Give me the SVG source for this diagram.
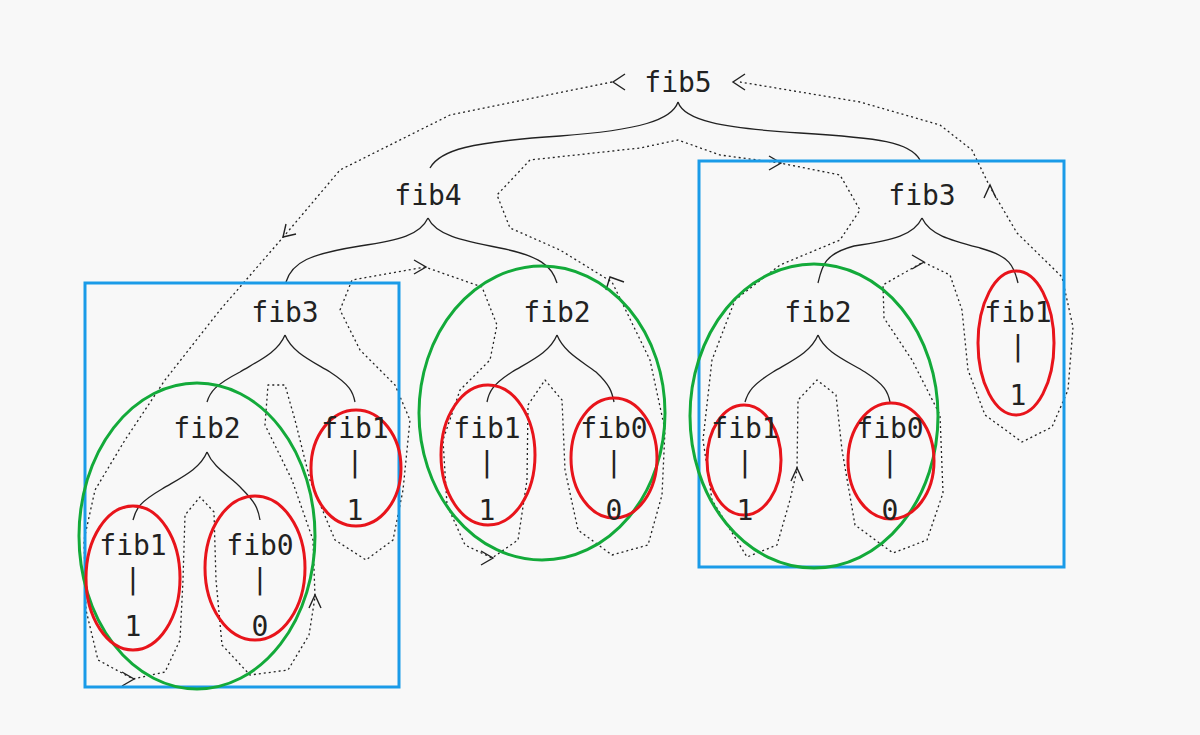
<svg xmlns="http://www.w3.org/2000/svg" width="1200" height="735" viewBox="0 0 1200 735">
<style>
text{font-family:"DejaVu Sans Mono","Liberation Mono",monospace;font-size:28px;fill:#222;text-anchor:middle}
.br{fill:none;stroke:#222;stroke-width:1.3}
.dot{fill:none;stroke:#222;stroke-width:1.3;stroke-dasharray:2 3;stroke-linejoin:round}
.ah{fill:none;stroke:#222;stroke-width:1.4}
.red{fill:none;stroke:#e8141b;stroke-width:3}
.grn{fill:none;stroke:#13aa3a;stroke-width:3}
.blu{fill:none;stroke:#1a9be8;stroke-width:3}
</style>
<rect width="1200" height="735" fill="#f8f8f8"/>
<g id="connectors">
<path class="br" d="M678,102 C672,120 640,130 560,136 C470,142 440,150 430,168"/>
<path class="br" d="M678,102 C684,120 720,128 800,133 C880,138 910,142 920,160"/>
<path class="br" d="M428,218 C420,235 400,240 360,246 C310,254 292,262 286,282"/>
<path class="br" d="M428,218 C436,235 460,240 500,248 C540,256 552,266 557,283"/>
<path class="br" d="M922,218 C914,235 894,240 854,246 C824,254 822,266 818,283"/>
<path class="br" d="M922,218 C930,235 950,240 980,248 C1010,256 1014,266 1018,283"/>
<path class="br" d="M285,335 C278,352 260,360 240,372 C215,385 210,392 207,402"/>
<path class="br" d="M285,335 C292,352 310,360 330,372 C350,385 353,392 355,402"/>
<path class="br" d="M557,335 C550,352 532,360 512,372 C492,385 489,392 487,402"/>
<path class="br" d="M557,335 C564,352 580,360 596,372 C610,385 612,392 614,402"/>
<path class="br" d="M818,335 C811,352 793,360 773,372 C752,385 748,392 745,402"/>
<path class="br" d="M818,335 C825,352 845,360 865,372 C885,385 888,392 890,402"/>
<path class="br" d="M207,452 C200,469 182,477 162,489 C140,502 136,508 133,520"/>
<path class="br" d="M207,452 C214,469 232,477 242,489 C255,502 258,508 260,520"/>
<polyline class="dot" points="612,82 450,115 340,170 285,235 220,310 165,380 125,440 95,490 84,540 86,610 98,660 133,679 165,672 180,640 183,580 185,515 200,497 214,512 216,580 222,645 250,675 288,670 309,635 315,597 313,540 292,480 265,425 268,385 285,385 295,420 310,480 335,540 366,560 393,540 403,490 410,420 395,385 360,350 340,310 352,280 425,267 482,287 497,325 490,360 460,390 443,440 447,505 465,545 492,558 518,540 527,480 528,405 545,380 562,400 565,470 578,530 612,555 648,545 662,495 665,430 650,360 612,282 560,250 510,228 497,195 530,160 640,148 678,140 720,155 780,163 840,175 860,210 840,240 780,265 735,300 712,360 703,440 712,500 747,557 777,545 790,500 797,470 798,400 817,380 836,395 842,450 855,525 893,553 927,540 943,493 940,415 912,360 884,318 883,285 923,262 950,275 962,310 968,370 985,415 1022,442 1052,427 1068,390 1073,327 1062,277 1017,233 990,187 972,150 940,125 860,102 740,82"/>
<path class="ah" d="M625,74 L613,82 L625,90"/>
<path class="ah" d="M286,224 L283,237 L296,234"/>
<path class="ah" d="M122,672 L134,679 L122,686"/>
<path class="ah" d="M309,608 L315,595 L321,608"/>
<path class="ah" d="M414,260 L426,267 L414,274"/>
<path class="ah" d="M481,551 L493,558 L481,565"/>
<path class="ah" d="M606,290 L610,277 L624,282"/>
<path class="ah" d="M769,156 L781,163 L769,170"/>
<path class="ah" d="M791,481 L797,468 L803,481"/>
<path class="ah" d="M912,255 L924,262 L912,269"/>
<path class="ah" d="M984,198 L990,185 L996,198"/>
<path class="ah" d="M745,74 L733,82 L745,90"/>
</g>
<rect id="box-left" class="blu" x="85" y="283" width="314" height="404"/>
<rect id="box-right" class="blu" x="699" y="161" width="365" height="406"/>
<g id="fib5"><text x="678" y="92">fib5</text></g>
<g id="fib4"><text x="428" y="205">fib4</text></g>
<g id="fib3-r"><text x="922" y="205">fib3</text></g>
<g id="fib3-l"><text x="285" y="322">fib3</text></g>
<g id="fib2-m"><ellipse class="grn" cx="542" cy="413" rx="123" ry="147"/><text x="557" y="322">fib2</text></g>
<g id="fib2-r"><ellipse class="grn" cx="814" cy="416" rx="124" ry="152"/><text x="818" y="322">fib2</text></g>
<g id="fib2-l"><ellipse class="grn" cx="197" cy="536" rx="118" ry="153"/><text x="207" y="438">fib2</text></g>
<g id="fib1-far"><ellipse class="red" cx="1016" cy="343" rx="38" ry="72"/><text x="1018" y="322">fib1</text><text x="1018" y="356">|</text><text x="1018" y="405">1</text></g>
<g id="fib1-l3"><ellipse class="red" cx="356" cy="468" rx="45" ry="58"/><text x="355" y="438">fib1</text><text x="355" y="472">|</text><text x="355" y="520">1</text></g>
<g id="fib1-m"><ellipse class="red" cx="488" cy="455" rx="47" ry="70"/><text x="487" y="438">fib1</text><text x="487" y="472">|</text><text x="487" y="520">1</text></g>
<g id="fib0-m"><ellipse class="red" cx="614" cy="458" rx="43" ry="60"/><text x="614" y="438">fib0</text><text x="614" y="472">|</text><text x="614" y="520">0</text></g>
<g id="fib1-r"><ellipse class="red" cx="744" cy="460" rx="37" ry="55"/><text x="745" y="438">fib1</text><text x="745" y="472">|</text><text x="745" y="520">1</text></g>
<g id="fib0-r"><ellipse class="red" cx="891" cy="461" rx="43" ry="58"/><text x="890" y="438">fib0</text><text x="890" y="472">|</text><text x="890" y="520">0</text></g>
<g id="fib1-ll"><ellipse class="red" cx="133" cy="578" rx="47" ry="72"/><text x="133" y="555">fib1</text><text x="133" y="589">|</text><text x="133" y="636">1</text></g>
<g id="fib0-ll"><ellipse class="red" cx="255" cy="568" rx="50" ry="72"/><text x="260" y="555">fib0</text><text x="260" y="589">|</text><text x="260" y="636">0</text></g>
</svg>
